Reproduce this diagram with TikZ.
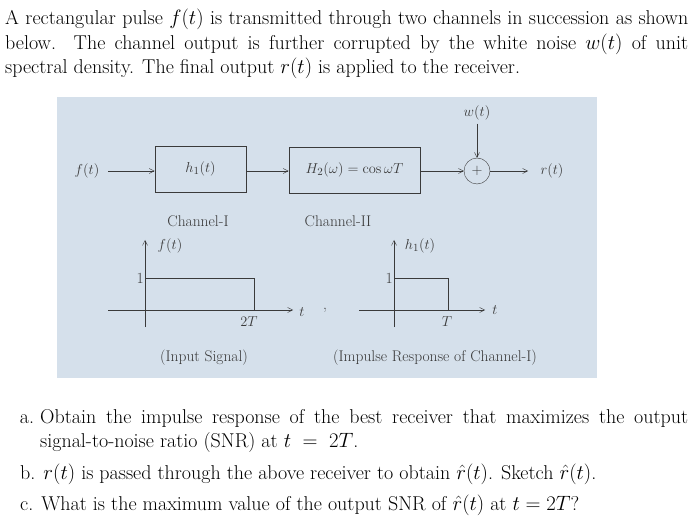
\documentclass[tikz,border=0pt]{standalone}
\usetikzlibrary{arrows.meta}
\definecolor{bgc}{HTML}{D5E0EB}
\definecolor{ink}{HTML}{3A3A3A}
\begin{document}
\begin{tikzpicture}[x=1pt,y=-1pt,
  blk/.style={draw=ink,thick,minimum height=46pt,inner sep=0pt},
  lab/.style={font=\fontsize{15.5}{17}\selectfont,text=ink},
  arr/.style={draw=ink,-{Straight Barb[length=5pt,width=5pt]}},
  ax/.style={draw=ink,-{Straight Barb[length=5pt,width=5pt]}},
  txt/.style={font=\fontsize{20}{24.5}\selectfont,inner sep=0pt}]
\useasboundingbox (0,0) rectangle (698,521);
\fill[bgc] (57,97) rectangle (597,378);
\node[txt,anchor=north west,text width=683pt,align=justify] (intro) at (5,9)
{A rectangular pulse $f(t)$ is transmitted through two channels in succession as shown\linebreak below. The channel output is further corrupted by the white noise $w(t)$ of unit\linebreak spectral density. The final output $r(t)$ is applied to the receiver.};
% block diagram
\node[lab] (f) at (87,171) {$f(t)$};
\node[blk,minimum width=91pt] (h1) at (200.5,169) {};
\node[lab] at (h1) {$h_1(t)$};
\node[blk,minimum width=131pt] (h2) at (354.5,170) {};
\node[lab] at (h2) {$H_2(\omega)=\cos\omega T$};
\node[draw=ink,circle,minimum size=26pt,inner sep=0pt,lab] (sum) at (477,171) {$+$};
\node[lab] (w) at (477,113) {$w(t)$};
\node[lab] (r) at (552,171) {$r(t)$};
\coordinate (fs) at (108,171);
\coordinate (re) at (528,171);
\draw[arr] (fs) -- (h1.west|-fs);
\draw[arr] (h1.east|-fs) -- (h2.west|-fs);
\draw[arr] (h2.east|-fs) -- (sum.west);
\draw[arr] (sum.east) -- (re);
\draw[arr] (w.south) -- (sum.north);
\node[lab] (c1) at (198,221) {Channel-I};
\node[lab] (c2) at (338,221) {Channel-II};
% plot 1
\draw[ax] (108,310) -- (293,310);
\draw[ax] (145,327) -- (145,240);
\draw[draw=ink] (145,278) -- (254,278) -- (254,310);
\node[lab,anchor=east,inner sep=1pt] (one1) at (145,278) {1};
\node[lab] (tt1) at (249,322) {$2T$};
\node[lab] (ta1) at (302,312) {$t$};
\node[lab] (fl) at (170,246) {$f(t)$};
\node[lab] (cm) at (325,310) {,};
% plot 2
\draw[ax] (359,310) -- (485,310);
\draw[ax] (394,327) -- (394,240);
\draw[draw=ink] (394,278) -- (448,278) -- (448,310);
\node[lab,anchor=east,inner sep=1pt] (one2) at (394,278) {1};
\node[lab] (tt2) at (447,322) {$T$};
\node[lab] (ta2) at (495,310) {$t$};
\node[lab] (hl) at (420,246) {$h_1(t)$};
\node[lab] (is) at (204,358) {(Input Signal)};
\node[lab] (ir) at (435,358) {(Impulse Response of Channel-I)};
% questions
\node[txt,anchor=north west,text width=648pt,align=justify] (qa) at (40,409)
{\makebox[0pt][r]{a.\ }Obtain the impulse response of the best receiver that maximizes the output\linebreak signal-to-noise ratio (SNR) at $t\;=\;2T$.};
\node[txt,anchor=west] (qb) at (20,474) {b. $r(t)$ is passed through the above receiver to obtain $\hat r(t)$. Sketch $\hat r(t)$.};
\node[txt,anchor=west] (qc) at (20,505) {c. What is the maximum value of the output SNR of $\hat r(t)$ at $t=2T$?};
\end{tikzpicture}
\end{document}
